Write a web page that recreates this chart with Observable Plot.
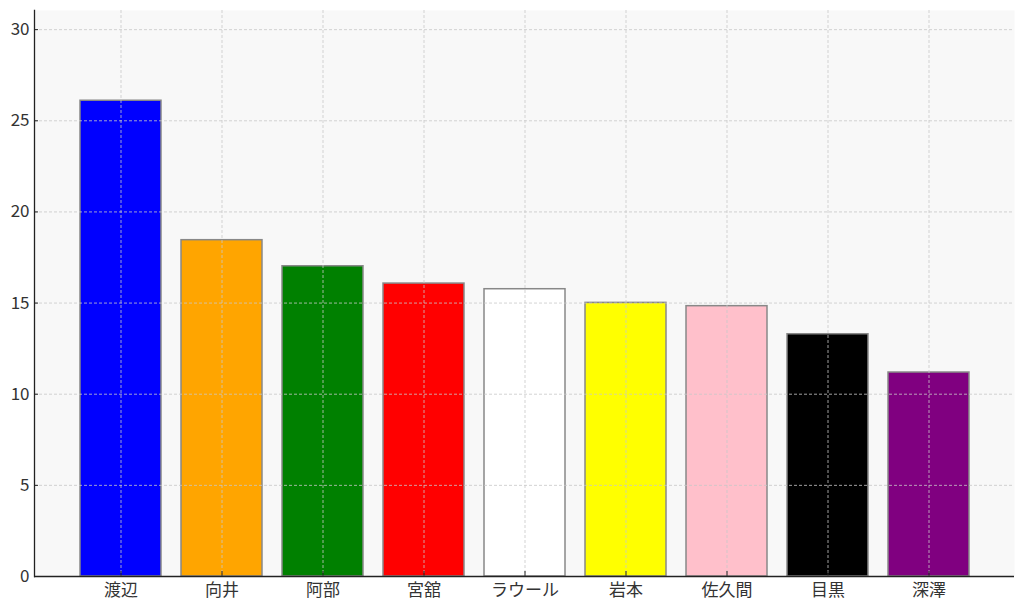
<!DOCTYPE html>
<html>
<head>
<meta charset="utf-8">
<script src="https://cdn.jsdelivr.net/npm/d3@7"></script>
<script src="https://cdn.jsdelivr.net/npm/@observablehq/plot@0.6"></script>
<style>
  html, body { margin: 0; padding: 0; background: #fff; }
  #chart svg { display: block; }
</style>
</head>
<body>
<div id="chart"></div>
<script>
const names = ["渡辺", "向井", "阿部", "宮舘", "ラウール", "岩本", "佐久間", "目黒", "深澤"];
const values = [26.1, 18.45, 17.02, 16.07, 15.76, 15.01, 14.83, 13.29, 11.19];
const colors = ["blue", "orange", "green", "red", "white", "yellow", "pink", "black", "purple"];
const yTicks = [0, 5, 10, 15, 20, 25, 30];

const data = names.map((n, i) => ({name: n, value: values[i], color: colors[i]}));

const chart = Plot.plot({
  width: 1024,
  height: 610,
  marginLeft: 34,
  marginRight: 10,
  marginTop: 10,
  marginBottom: 34,
  style: {fontFamily: "'Noto Sans CJK JP', 'Noto Sans', sans-serif", fontSize: "17px", color: "#333", background: "#fff"},
  x: {domain: names, paddingInner: 0.2, paddingOuter: 0.44, label: null},
  y: {domain: [0, 31.05], label: null},
  marks: [
    Plot.frame({fill: "#f8f8f8", stroke: null}),
    Plot.barY(data, {x: "name", y: "value", fill: "color", stroke: "#888", strokeWidth: 1.5}),
    Plot.gridX({stroke: "#c8c8c8", strokeOpacity: 1, strokeDasharray: "3,2", strokeWidth: 0.8}),
    Plot.gridY(yTicks, {stroke: "#c8c8c8", strokeOpacity: 1, strokeDasharray: "3,2", strokeWidth: 0.8}),
    Plot.axisY(yTicks, {tickSize: -4, tickPadding: 9, fontSize: 17, stroke: "#222", fill: "#333", label: null}),
    Plot.axisX({tickSize: -5, tickPadding: 12, fontSize: 17, stroke: "#222", fill: "#333", label: null}),
    Plot.ruleY([0], {stroke: "#222", strokeWidth: 1.3}),
    Plot.frame({anchor: "left", stroke: "#222", strokeWidth: 1.3})
  ]
});
document.getElementById("chart").appendChild(chart);
</script>
</body>
</html>
